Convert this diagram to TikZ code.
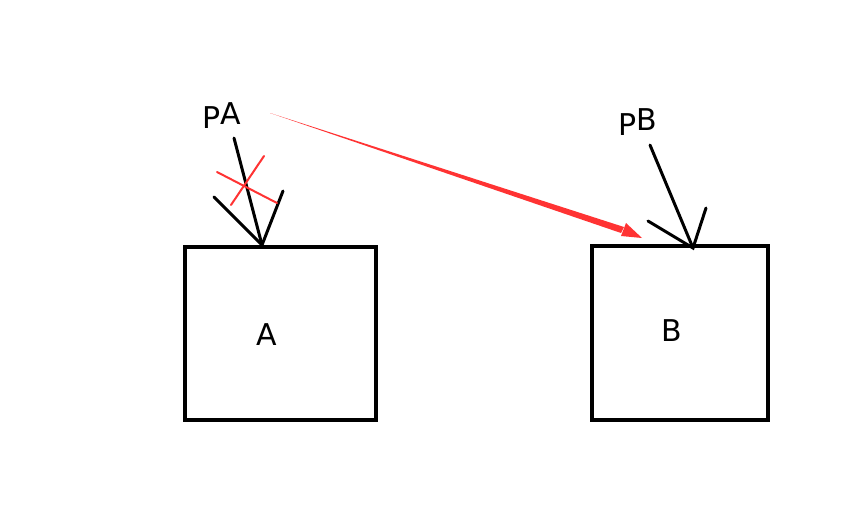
\documentclass[tikz,border=0pt]{standalone}
\usepackage{fontspec}
\setmainfont{DejaVu Sans}
\begin{document}
\begin{tikzpicture}[x=1pt,y=-1pt,
  stroke/.style={line width=3pt,line cap=round},
  redx/.style={draw=red!80,line width=2pt,line cap=round},
  lbl/.style={font=\fontsize{30}{30}\selectfont,inner sep=0}]
\useasboundingbox (0,0) rectangle (851,509);
\node[draw,line width=3.5pt,minimum width=191pt,minimum height=173pt,inner sep=0] (A) at (280.5,333.5) {};
\node[draw,line width=3.5pt,minimum width=176pt,minimum height=174pt,inner sep=0] (B) at (680,333) {};
\node[lbl] (tA) at (267,335) {A};
\node[lbl] (tB) at (672,331) {B};
\node[lbl,font=\fontsize{30}{30}\selectfont] (pA) at (222,116) {\raisebox{-4pt}{P}A};
\node[lbl,font=\fontsize{30}{30}\selectfont] (pB) at (638,122) {\raisebox{-5pt}{P}B};
% A arrow
\coordinate (a0) at (234,138); \coordinate (a1) at (262,245);
\coordinate (ah1) at (214,197); \coordinate (ah2) at (283,191);
\draw[stroke] (a0) -- (a1); \draw[stroke] (ah1) -- (a1) -- (ah2);
% red cross
\coordinate (x1) at (217,172); \coordinate (x2) at (277,203);
\coordinate (x3) at (264,156); \coordinate (x4) at (231,205);
\draw[redx] (x1) -- (x2); \draw[redx] (x3) -- (x4);
% B arrow
\coordinate (b0) at (650,145); \coordinate (b1) at (693,248);
\coordinate (bh1) at (648,221); \coordinate (bh2) at (706,208);
\draw[stroke] (b0) -- (b1); \draw[stroke] (bh1) -- (b1) -- (bh2);
% red tapered arrow
\coordinate (r0) at (270,113); \coordinate (r1) at (642,238);
\fill[red!80] (r0) -- (624,227) -- (621,233) -- cycle;
\fill[red!80] (r1) -- (626,223) -- (621,236) -- cycle;
\end{tikzpicture}
\end{document}
